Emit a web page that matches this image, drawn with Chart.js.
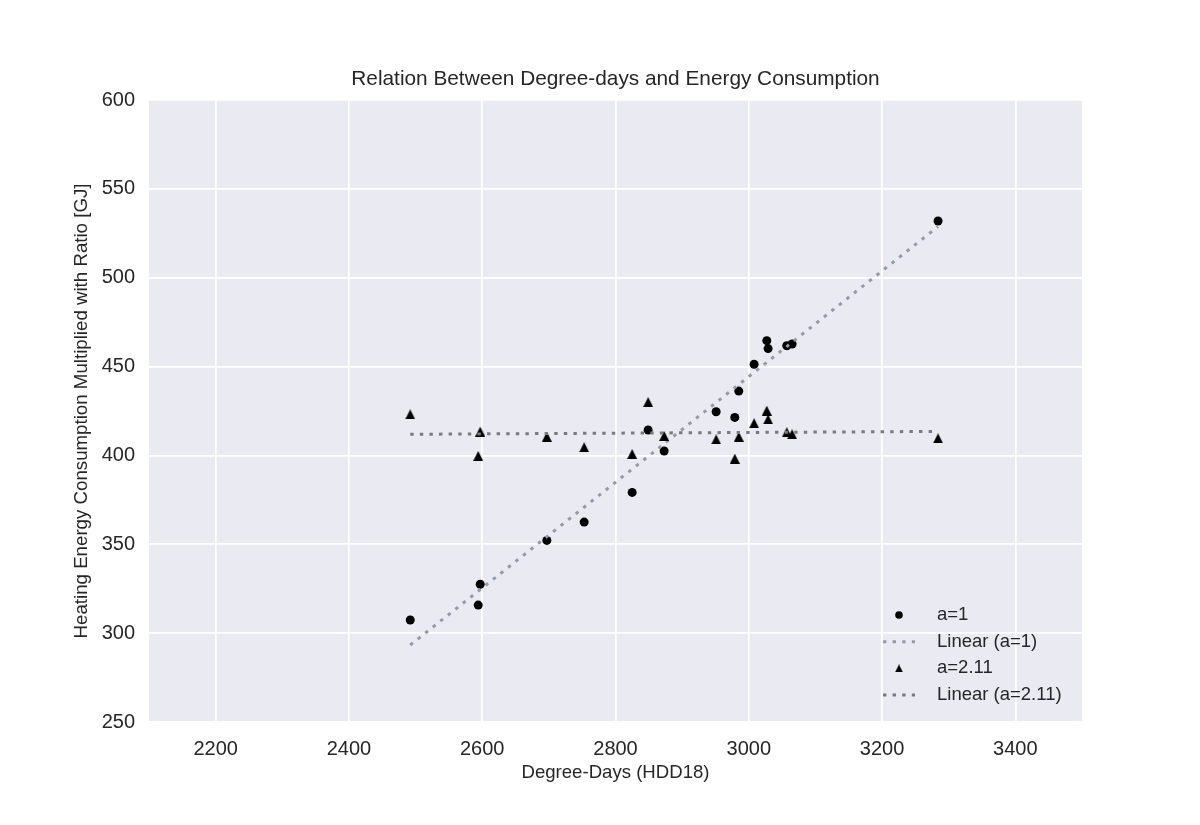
<!DOCTYPE html>
<html>
<head>
<meta charset="utf-8">
<script src="https://cdn.jsdelivr.net/npm/chart.js@4.4.1/dist/chart.umd.min.js"></script>
<style>
  html, body { margin: 0; padding: 0; background: #ffffff; }
  #c { display: block; }
</style>
</head>
<body>
<canvas id="c" width="1200" height="825"></canvas>
<script>
// ---- data ----
const hdd = [2492, 2594, 2597, 2697, 2753, 2825, 2849, 2873, 2951, 2979, 2985, 3008, 3027, 3029, 3057, 3065, 3284];
const energyA1 = [307.4, 315.8, 327.5, 352.2, 362.5, 379.2, 414.3, 402.5, 424.6, 421.4, 436.2, 451.3, 464.6, 460.1, 461.7, 462.7, 531.9];
const energyA211 = [423.1, 399.7, 413.4, 410.5, 404.6, 400.8, 430.0, 410.9, 409.0, 398.2, 410.5, 418.1, 425.2, 420.3, 413.0, 411.9, 409.6];
const trendX = [2492, 3284];
const trendA1 = [293.3, 528.8];
const trendA211 = [411.9, 413.5];
const xTickVals = [2200, 2400, 2600, 2800, 3000, 3200, 3400];
const yTickVals = [250, 300, 350, 400, 450, 500, 550, 600];
const labels = ['a=1', 'Linear (a=1)', 'a=2.11', 'Linear (a=2.11)'];

const pts = (xs, ys) => xs.map((x, i) => ({ x: x, y: ys[i] }));

const TEXT = '#262626';
const FONT = 'Liberation Sans';
Chart.defaults.font.family = FONT;
Chart.defaults.color = TEXT;

// isosceles "^" marker like matplotlib
function triMarker(size) {
  const c = document.createElement('canvas');
  c.width = size; c.height = size;
  const g = c.getContext('2d');
  g.fillStyle = '#000000';
  g.beginPath();
  g.moveTo(size / 2, 0);
  g.lineTo(size, size);
  g.lineTo(0, size);
  g.closePath();
  g.fill();
  return c;
}
const triBig = triMarker(10);
const triSmall = triMarker(8);

const bgPlugin = {
  id: 'bg',
  beforeDraw(chart) {
    const { ctx, chartArea: a } = chart;
    ctx.save();
    ctx.fillStyle = '#ffffff';
    ctx.fillRect(0, 0, chart.width, chart.height);
    ctx.fillStyle = '#EAEAF2';
    ctx.fillRect(a.left, a.top, a.right - a.left, a.bottom - a.top);
    ctx.restore();
  }
};

const titlePlugin = {
  id: 'ttl',
  afterDraw(chart) {
    const { ctx, chartArea: a } = chart;
    ctx.save();
    ctx.font = '20.8px "' + FONT + '"';
    ctx.fillStyle = TEXT;
    ctx.textAlign = 'center';
    ctx.textBaseline = 'middle';
    ctx.fillText('Relation Between Degree-days and Energy Consumption', (a.left + a.right) / 2, 79);
    ctx.restore();
  }
};

const legendPlugin = {
  id: 'lg',
  afterDraw(chart) {
    const { ctx } = chart;
    const x0 = 899, tx = 937, y0 = 615, dy = 26.7;
    ctx.save();
    chart.data.datasets.forEach((ds, i) => {
      const y = y0 + i * dy;
      if (ds.type === 'line') {
        ctx.save();
        ctx.strokeStyle = ds.borderColor;
        ctx.lineWidth = ds.borderWidth;
        ctx.setLineDash(ds.borderDash);
        ctx.beginPath();
        ctx.moveTo(x0 - 16, y);
        ctx.lineTo(x0 + 16, y);
        ctx.stroke();
        ctx.restore();
      } else if (ds.pointStyle === 'circle') {
        ctx.fillStyle = '#000000';
        ctx.beginPath();
        ctx.arc(x0, y, 3.8, 0, Math.PI * 2);
        ctx.fill();
      } else {
        ctx.drawImage(triSmall, x0 - 4, y - 4);
      }
      ctx.font = '18.5px "' + FONT + '"';
      ctx.fillStyle = TEXT;
      ctx.textAlign = 'left';
      ctx.textBaseline = 'middle';
      ctx.fillText(ds.label, tx, y);
    });
    ctx.restore();
  }
};

new Chart(document.getElementById('c'), {
  data: {
    datasets: [
      { type: 'scatter', label: labels[0], data: pts(hdd, energyA1), pointStyle: 'circle', pointRadius: 4.5, backgroundColor: '#000000', borderColor: '#000000', borderWidth: 0, order: 4 },
      { type: 'line', label: labels[1], data: pts(trendX, trendA1), borderColor: '#959aaa', borderWidth: 3, borderDash: [3.4, 6.2], pointRadius: 0, fill: false, order: 3 },
      { type: 'scatter', label: labels[2], data: pts(hdd, energyA211), pointStyle: triBig, pointRadius: 5, backgroundColor: '#000000', borderColor: '#000000', borderWidth: 0, order: 2 },
      { type: 'line', label: labels[3], data: pts(trendX, trendA211), borderColor: '#7a7a7e', borderWidth: 3, borderDash: [3.4, 6.2], pointRadius: 0, fill: false, order: 1 }
    ]
  },
  options: {
    responsive: false,
    animation: false,
    devicePixelRatio: 1,
    layout: { padding: { top: 100, right: 118, left: 0, bottom: 0 } },
    plugins: { legend: { display: false }, tooltip: { enabled: false }, title: { display: false } },
    scales: {
      x: {
        type: 'linear', position: 'bottom', min: 2100, max: 3500,
        afterBuildTicks(s) { s.ticks = xTickVals.map(v => ({ value: v })); },
        afterFit(s) { s.height = 103; },
        grid: { color: '#ffffff', lineWidth: 1.7, drawTicks: false },
        border: { display: false },
        ticks: { font: { size: 20 }, color: TEXT, padding: 15, maxRotation: 0, autoSkip: false, callback: v => String(v) },
        title: { display: true, text: 'Degree-Days (HDD18)', font: { size: 18.6 }, color: TEXT, padding: { top: 0, bottom: 41 } }
      },
      y: {
        type: 'linear', position: 'left', min: 250, max: 600,
        afterBuildTicks(s) { s.ticks = yTickVals.map(v => ({ value: v })); },
        afterFit(s) { s.width = 149; },
        grid: { color: '#ffffff', lineWidth: 1.7, drawTicks: false },
        border: { display: false },
        ticks: { font: { size: 20 }, color: TEXT, padding: 14, autoSkip: false, callback: v => String(v) },
        title: { display: true, text: 'Heating Energy Consumption Multiplied with Ratio [GJ]', font: { size: 18.7 }, color: TEXT, padding: { top: 71, bottom: 0 } }
      }
    }
  },
  plugins: [bgPlugin, titlePlugin, legendPlugin]
});
</script>
</body>
</html>
